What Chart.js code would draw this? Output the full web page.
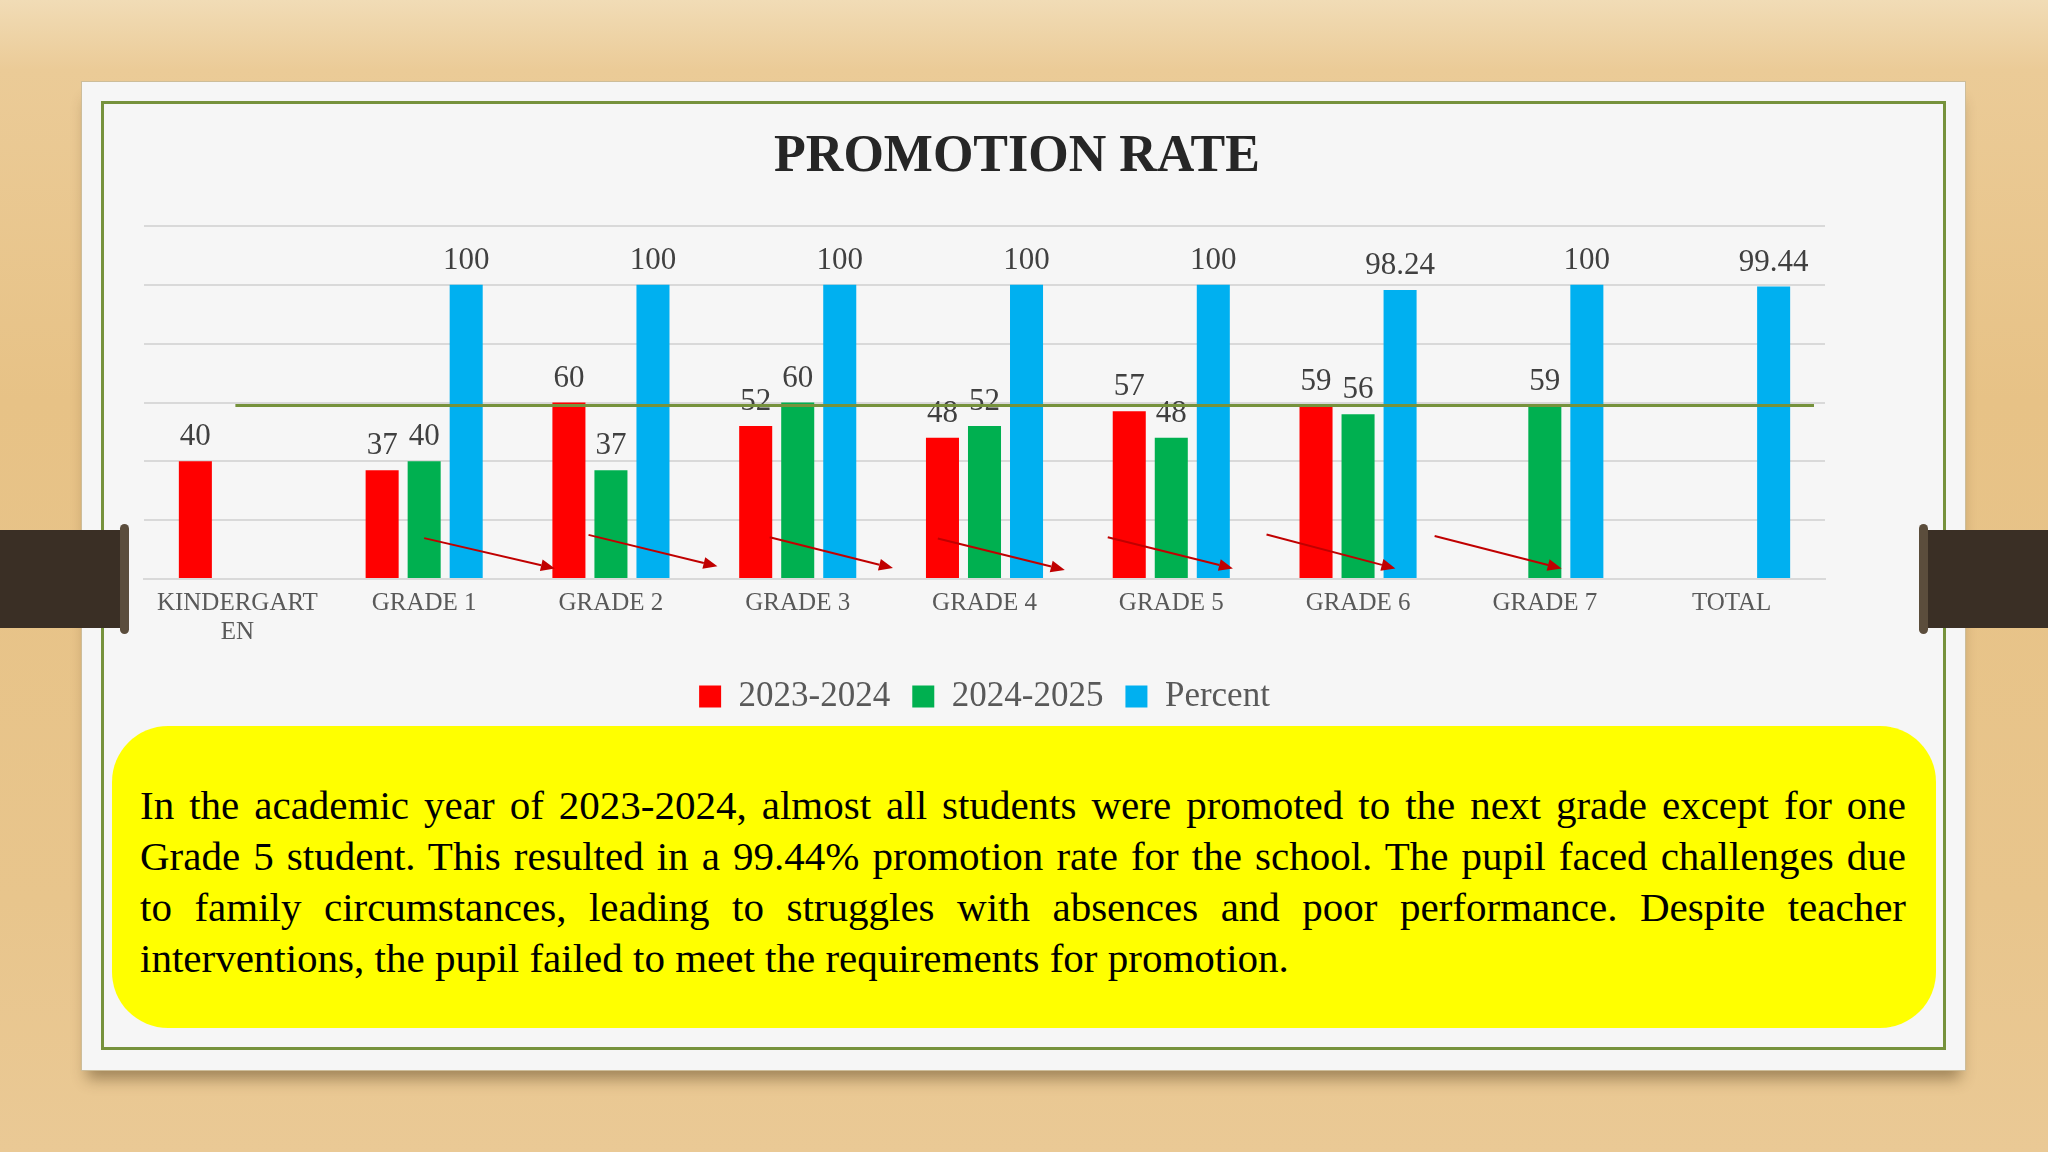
<!DOCTYPE html>
<html>
<head>
<meta charset="utf-8">
<script src="https://cdn.jsdelivr.net/npm/chart.js@4.4.1/dist/chart.umd.min.js"></script>
<style>
  html, body { margin: 0; padding: 0; }
  body {
    width: 2048px; height: 1152px; position: relative; overflow: hidden;
    background: linear-gradient(180deg, #f1dcb6 0px, #ebcb97 70px, #e7c286 400px, #e8c58c 900px, #eac995 1152px);
    font-family: 'Liberation Serif', serif;
  }
  .card {
    position: absolute; left: 81px; top: 81px; width: 1885px; height: 990px;
    background: #f6f6f6; border: 1px solid #cdbd9a; box-sizing: border-box;
    box-shadow: 0 14px 14px -6px rgba(70, 50, 20, 0.45);
  }
  .frame {
    position: absolute; left: 101px; top: 101px; width: 1845px; height: 949px;
    border: 3px solid #76923c; box-sizing: border-box;
  }
  .title {
    position: absolute; left: 517px; top: 124px; width: 1000px; text-align: center;
    font: bold 52px/60px 'Liberation Serif', serif; color: #262626;
  }
  #wrap { position: absolute; left: 102px; top: 100px; width: 1844px; height: 630px; }
  .note {
    position: absolute; left: 112px; top: 726px; width: 1824px; height: 302px;
    background: #ffff00; border-radius: 56px;
  }
  .note .txt { position: absolute; left: 28px; top: 54px; width: 1766px; }
  .note .ln {
    font-size: 41px; line-height: 51px; height: 51px; color: #000;
    text-align: justify; text-align-last: justify; white-space: nowrap;
  }
  .note .ln.last { text-align-last: left; }
  .tab { position: absolute; top: 530px; width: 128px; height: 98px; background: #3a2f25; }
  .knob { position: absolute; top: 524px; width: 9px; height: 110px; background: #5b4d3c; border-radius: 5px; }
</style>
</head>
<body>
<div class="card"></div>
<div class="frame"></div>
<div class="title">PROMOTION RATE</div>
<div id="wrap"><canvas id="promoChart" width="1844" height="630"></canvas></div>
<div class="note">
  <div class="txt">
    <div class="ln">In the academic year of 2023-2024, almost all students were promoted to the next grade except for one</div>
    <div class="ln">Grade 5 student. This resulted in a 99.44% promotion rate for the school. The pupil faced challenges due</div>
    <div class="ln">to family circumstances, leading to struggles with absences and poor performance. Despite teacher</div>
    <div class="ln last">interventions, the pupil failed to meet the requirements for promotion.</div>
  </div>
</div>
<div class="tab" style="left:0"></div>
<div class="knob" style="left:120px"></div>
<div class="tab" style="left:1920px"></div>
<div class="knob" style="left:1919px"></div>

<script>
// chart data
const categories = [['KINDERGART', 'EN'], 'GRADE 1', 'GRADE 2', 'GRADE 3', 'GRADE 4', 'GRADE 5', 'GRADE 6', 'GRADE 7', 'TOTAL'];
const seriesNames = ['2023-2024', '2024-2025', 'Percent'];
const year2324 = [40, 37, 60, 52, 48, 57, 59, null, null];
const year2425 = [null, 40, 37, 60, 52, 48, 56, 59, null];
const percent = [null, 100, 100, 100, 100, 100, 98.24, 100, 99.44];
const yMax = 120;
const yStep = 20;
const guideValue = 59;
// arrows: [fromCategory, fromValue, toCategory, toValue]
const arrows = [
    [1.00, 13.9, 1.70, 3.6],
    [1.88, 15.0, 2.57, 4.3],
    [2.85, 14.2, 3.51, 3.7],
    [3.75, 13.8, 4.43, 3.1],
    [4.66, 14.2, 5.33, 3.6],
    [5.51, 15.1, 6.20, 3.6],
    [6.41, 14.6, 7.09, 3.6]
];

const colors = ['#ff0000', '#00b050', '#00b0f0'];
const serif = "'Liberation Serif', serif";

// value labels above each bar
const barLabels = {
    id: 'barLabels',
    afterDatasetsDraw(chart) {
        const ctx = chart.ctx;
        ctx.save();
        ctx.font = '31px ' + serif;
        ctx.fillStyle = '#404040';
        ctx.textAlign = 'center';
        ctx.textBaseline = 'middle';
        chart.data.datasets.forEach((ds, i) => {
            chart.getDatasetMeta(i).data.forEach((bar, j) => {
                if (ds.data[j] == null) return;
                ctx.fillText(String(ds.data[j]), bar.x, bar.y - 24);
            });
        });
        ctx.restore();
    }
};

// olive guide line and red arrows
const decorations = {
    id: 'decorations',
    afterDatasetsDraw(chart) {
        const ctx = chart.ctx;
        const xs = chart.scales.x, ys = chart.scales.y;
        ctx.save();
        ctx.strokeStyle = '#76923c';
        ctx.lineWidth = 3;
        const gy = ys.getPixelForValue(guideValue);
        ctx.beginPath();
        ctx.moveTo(xs.getPixelForValue(0) - 2, gy);
        ctx.lineTo(chart.chartArea.right - 11, gy);
        ctx.stroke();

        ctx.strokeStyle = '#c00000';
        ctx.fillStyle = '#c00000';
        ctx.lineWidth = 2;
        arrows.forEach(a => {
            const x1 = xs.getPixelForValue(a[0]), y1 = ys.getPixelForValue(a[1]);
            const x2 = xs.getPixelForValue(a[2]), y2 = ys.getPixelForValue(a[3]);
            const ang = Math.atan2(y2 - y1, x2 - x1);
            const len = 14, half = 6;
            const bx = x2 - len * Math.cos(ang), by = y2 - len * Math.sin(ang);
            ctx.beginPath();
            ctx.moveTo(x1, y1);
            ctx.lineTo(bx, by);
            ctx.stroke();
            ctx.beginPath();
            ctx.moveTo(x2, y2);
            ctx.lineTo(bx + half * Math.sin(ang), by - half * Math.cos(ang));
            ctx.lineTo(bx - half * Math.sin(ang), by + half * Math.cos(ang));
            ctx.closePath();
            ctx.fill();
        });
        ctx.restore();
    }
};

const ctx = document.getElementById('promoChart').getContext('2d');
const promoChart = new Chart(ctx, {
    type: 'bar',
    data: {
        labels: categories,
        datasets: [
            { label: seriesNames[0], data: year2324, backgroundColor: colors[0] },
            { label: seriesNames[1], data: year2425, backgroundColor: colors[1] },
            { label: seriesNames[2], data: percent, backgroundColor: colors[2] }
        ]
    },
    options: {
        responsive: false,
        animation: false,
        devicePixelRatio: 1,
        categoryPercentage: 0.675,
        barPercentage: 0.786,
        layout: { padding: { left: 42, right: 121, top: 126, bottom: 6 } },
        plugins: {
            title: { display: false },
            tooltip: { enabled: false },
            legend: {
                position: 'bottom',
                labels: {
                    font: { family: serif, size: 35 },
                    color: '#595959',
                    boxWidth: 22,
                    boxHeight: 22,
                    padding: 22
                }
            }
        },
        scales: {
            x: {
                grid: { display: false, drawTicks: false },
                border: { display: true, color: '#d9d9d9', width: 2 },
                ticks: {
                    font: { family: serif, size: 25, lineHeight: 1.16 },
                    color: '#595959',
                    padding: 10,
                    maxRotation: 0,
                    autoSkip: false
                }
            },
            y: {
                min: 0,
                max: yMax,
                ticks: { display: false, stepSize: yStep },
                grid: { color: '#d9d9d9', lineWidth: 2, drawTicks: false },
                border: { display: false }
            }
        }
    },
    plugins: [barLabels, decorations]
});
</script>
</body>
</html>
